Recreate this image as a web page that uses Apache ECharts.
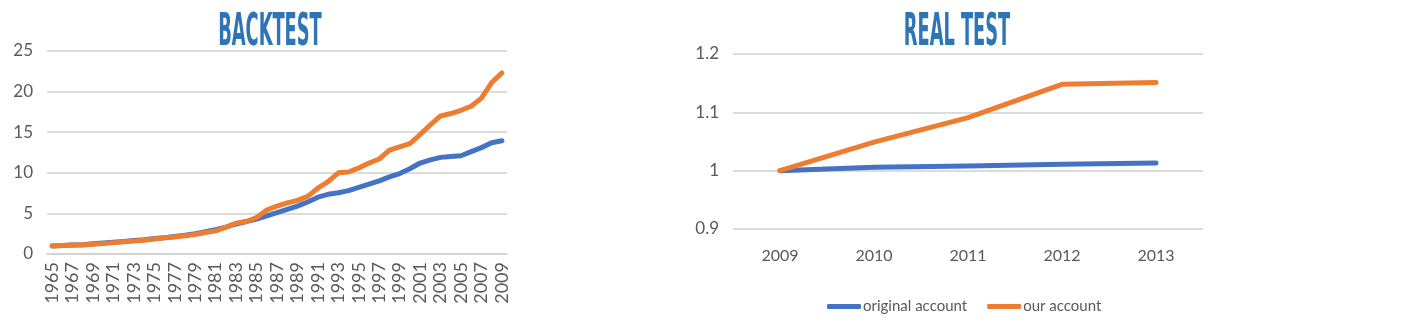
<!DOCTYPE html>
<html>
<head>
<meta charset="utf-8">
<script src="https://cdn.jsdelivr.net/npm/echarts@6/dist/echarts.min.js"></script>
<style>
  html, body { margin: 0; padding: 0; background: #fff; }
  #main { width: 1427px; height: 322px; }
</style>
</head>
<body>
<div id="main"></div>
<script>
// backtest years 1965..2009
const years = ['1965','1966','1967','1968','1969','1970','1971','1972','1973','1974','1975','1976','1977','1978','1979','1980','1981','1982','1983','1984','1985','1986','1987','1988','1989','1990','1991','1992','1993','1994','1995','1996','1997','1998','1999','2000','2001','2002','2003','2004','2005','2006','2007','2008','2009'];
const backOriginal = [1.0,1.05,1.1,1.15,1.25,1.35,1.45,1.55,1.65,1.75,1.9,2.0,2.15,2.3,2.5,2.75,3.0,3.3,3.7,4.0,4.3,4.7,5.1,5.5,5.9,6.4,7.0,7.35,7.55,7.8,8.2,8.6,9.0,9.5,9.9,10.5,11.2,11.6,11.9,12.0,12.1,12.6,13.1,13.7,13.95];
const backOurs = [1.0,1.05,1.1,1.12,1.2,1.3,1.4,1.5,1.6,1.7,1.85,2.0,2.1,2.25,2.4,2.65,2.85,3.3,3.8,4.0,4.5,5.4,5.9,6.3,6.6,7.1,8.1,8.9,10.0,10.1,10.6,11.2,11.7,12.8,13.2,13.6,14.7,15.9,17.0,17.3,17.7,18.2,19.2,21.1,22.3];

// real test
const realYears = ['2009','2010','2011','2012','2013'];
const realOriginal = [1.0,1.006,1.008,1.011,1.013];
const realOurs = [1.0,1.049,1.091,1.148,1.151];

const blue = '#4472C4';
const orange = '#ED7D31';
const labelFont = 'Lato, "Open Sans", sans-serif';

const chart = echarts.init(document.getElementById('main'));

// condensed bold heading, squeezed horizontally
const titleText = (txt, x) => ({
  type: 'text',
  x: x, y: 34,
  scaleX: 0.45, scaleY: 1.0,
  style: {
    text: txt,
    font: 'bold 44px "DejaVu Sans Condensed", sans-serif',
    fill: '#2E75B6',
    align: 'center',
    verticalAlign: 'middle'
  }
});

const axisLabelStyle = { color: '#595959', fontSize: 16, fontFamily: labelFont };
const gridLine = { show: true, lineStyle: { color: '#d0d0d0', width: 1.5 } };
const lineStyle = { width: 5, cap: 'round', join: 'round' };

const option = {
  animation: false,
  graphic: [titleText('BACKTEST', 270), titleText('REAL TEST', 957)],
  legend: {
    data: ['original account', 'our account'],
    left: 822,
    top: 294,
    icon: 'roundRect',
    itemWidth: 34,
    itemHeight: 5,
    itemGap: 20,
    textStyle: { color: '#595959', fontSize: 15, fontFamily: labelFont, padding: [0, 0, 0, -3] }
  },
  grid: [
    { left: 47, right: 920, top: 51, bottom: 68 },
    { left: 733, right: 224, top: 54, bottom: 93 }
  ],
  xAxis: [
    {
      type: 'category', gridIndex: 0, data: years, boundaryGap: true,
      axisLine: { lineStyle: { color: '#d0d0d0', width: 1.5 } },
      axisTick: { show: false },
      axisLabel: Object.assign({ rotate: 90, interval: 1, margin: 8 }, axisLabelStyle, { fontSize: 18 })
    },
    {
      type: 'category', gridIndex: 1, data: realYears, boundaryGap: true,
      axisLine: { show: false },
      axisTick: { show: false },
      axisLabel: Object.assign({ margin: 19 }, axisLabelStyle)
    }
  ],
  yAxis: [
    {
      type: 'value', gridIndex: 0, min: 0, max: 25, interval: 5,
      axisLine: { show: false }, axisTick: { show: false },
      splitLine: gridLine,
      axisLabel: Object.assign({ margin: 14 }, axisLabelStyle, { fontSize: 17 })
    },
    {
      type: 'value', gridIndex: 1, min: 0.9, max: 1.2, interval: 0.1,
      axisLine: { show: false }, axisTick: { show: false },
      splitLine: gridLine,
      axisLabel: Object.assign({ margin: 14 }, axisLabelStyle, { fontSize: 17 })
    }
  ],
  series: [
    {
      name: 'original account', type: 'line', xAxisIndex: 0, yAxisIndex: 0,
      data: backOriginal, symbol: 'none', color: blue, lineStyle: lineStyle
    },
    {
      name: 'our account', type: 'line', xAxisIndex: 0, yAxisIndex: 0,
      data: backOurs, symbol: 'none', color: orange, lineStyle: lineStyle
    },
    {
      name: 'original account', type: 'line', xAxisIndex: 1, yAxisIndex: 1,
      data: realOriginal, symbol: 'none', color: blue, lineStyle: lineStyle
    },
    {
      name: 'our account', type: 'line', xAxisIndex: 1, yAxisIndex: 1,
      data: realOurs, symbol: 'none', color: orange, lineStyle: lineStyle
    }
  ]
};

chart.setOption(option);
</script>
</body>
</html>
